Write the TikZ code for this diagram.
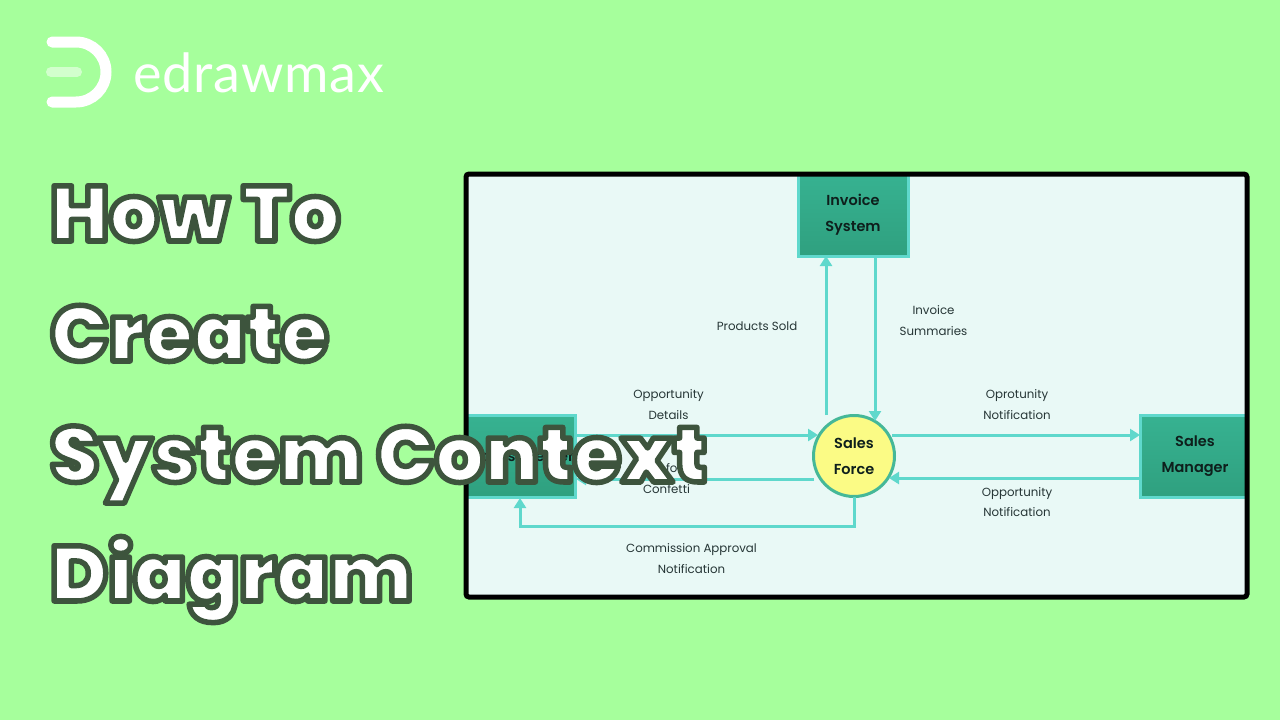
\documentclass[tikz,border=0pt]{standalone}
\usepackage{fontspec}
\setmainfont{Poppins}[BoldFont={Poppins SemiBold}]
\newfontfamily\titlefont{Poppins Black}
\newfontfamily\logofont{Lato}[LetterSpace=1.5]
\usetikzlibrary{arrows.meta}
\definecolor{bggreen}{HTML}{A6FF9C}
\definecolor{panel}{HTML}{E9F9F6}
\definecolor{wire}{HTML}{5FD8CC}
\definecolor{boxtop}{HTML}{37B291}
\definecolor{boxbot}{HTML}{2FA07F}
\definecolor{ringc}{HTML}{45B898}
\definecolor{sun}{HTML}{FBFB85}
\definecolor{lab}{HTML}{263636}
\definecolor{ink}{HTML}{0E1F1C}
\tikzset{
 x=1pt,y=-1pt,
 entity/.style={draw=wire,line width=3pt,top color=boxtop,bottom color=boxbot,inner sep=0pt,align=center,minimum width=110pt,minimum height=82pt,font=\bfseries\fontsize{14.5}{26}\selectfont,text=ink},
 flow/.style={draw=wire,line width=3pt,-{Triangle[length=10pt,width=12pt]}},
 lbl/.style={align=center,font=\fontsize{11.8}{20.6}\selectfont,text=lab,inner sep=0pt},
 title/.style={anchor=base west,inner sep=0pt,font=\titlefont\fontsize{78}{78}\selectfont},
}
\newcommand{\outlined}[1]{\special{pdf:code q 2 Tr 5.5 w 1 j 0.24 0.33 0.24 RG 1 1 1 rg}#1\special{pdf:code Q}}
\begin{document}
\begin{tikzpicture}
\useasboundingbox (0,0) rectangle (1280,720);
\fill[bggreen] (0,0) rectangle (1280,720);
% logo
\draw[white,line width=11pt,line cap=round] (52,42) -- (76,42) arc[start angle=-90,end angle=90,radius=30] -- (52,102);
\draw[white,opacity=.5,line width=10pt,line cap=round] (51,72) -- (77,72);
\node[anchor=base west,inner sep=0pt,text=white,font=\logofont\fontsize{54}{54}\selectfont] (logo) at (133,92) {edrawmax};
% panel
\fill[panel] (466,174) rectangle (1247,597);
% nodes
\begin{scope}
\clip (468,176) rectangle (1245,595);
\node[entity] (inv) at (853,215) {Invoice\\System};
\node[entity] (proc) at (520,456) {Process Server};
\node[entity] (mgr) at (1195,456.5) {Sales\\Manager};
\end{scope}
\draw[black,line width=5pt,rounded corners=3pt] (466,174) rectangle (1247,597);
\node[circle,draw=ringc,line width=3pt,fill=sun,minimum size=81pt,inner sep=0pt,align=center,font=\bfseries\fontsize{14.5}{26}\selectfont,text=ink] (sf) at (854,456) {Sales\\Force};
% connectors
\coordinate (a1) at (826,415);
\coordinate (a2) at (826,256);
\coordinate (b1) at (875,256);
\coordinate (b2) at (875,421);
\draw[flow] (a1) -- (a2);
\draw[flow] (b1) -- (b2);
\coordinate (c1) at (576,435);
\coordinate (c2) at (818,435);
\draw[flow] (c1) -- (c2);
\coordinate (d1) at (814,479);
\coordinate (d2) at (576,479);
\draw[flow] (d1) -- (d2);
\coordinate (e1) at (892,435);
\coordinate (e2) at (1140,435);
\draw[flow] (e1) -- (e2);
\coordinate (f1) at (1140,478);
\coordinate (f2) at (889,478);
\draw[flow] (f1) -- (f2);
\coordinate (g1) at (854,497);
\coordinate (g3) at (520,498);
\draw[flow] (g1) |- (520,526) -- (g3);
% labels
\node[lbl] (l1) at (757,326.5) {Products Sold};
\node[lbl] (l2) at (933.5,320.5) {Invoice\\Summaries};
\node[lbl] (l3) at (668.5,404.5) {Opportunity\\Details};
\node[lbl] (l4) at (666.5,478.5) {Info\\Confetti};
\node[lbl] (l5) at (1017,404.5) {Oprotunity\\Notification};
\node[lbl] (l6) at (1017,502) {Opportunity\\Notification};
\node[lbl] (l7) at (691.5,558.5) {Commission Approval\\Notification};
% title
\node[title] (t1) at (50,241) {\outlined{How To}};
\node[title] (t2) at (50,361) {\outlined{Create}};
\node[title] (t3) at (50,482) {\outlined{System Context}};
\node[title] (t4) at (50,601) {\outlined{Diagram}};
\end{tikzpicture}
\end{document}
